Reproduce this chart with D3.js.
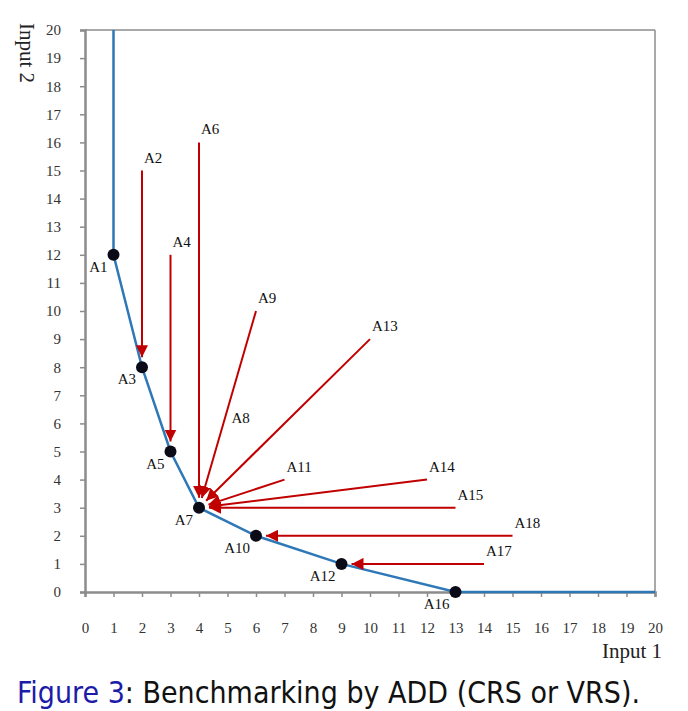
<!DOCTYPE html>
<html>
<head>
<meta charset="utf-8">
<script src="https://cdn.jsdelivr.net/npm/d3@7"></script>
<style>
  body { margin: 0; background: #fff; }
  svg { display: block; }
  .tick text { font-family: "Liberation Serif", "DejaVu Serif", serif; font-size: 15px; fill: #333; }
  .lbl { font-family: "Liberation Serif", "DejaVu Serif", serif; font-size: 15px; fill: #111; }
  .axis-label { font-family: "Liberation Serif", "DejaVu Serif", serif; font-size: 21px; fill: #222; }
</style>
</head>
<body>
<svg id="chart"></svg>
<script>
// efficient frontier points
const frontierNames = ["A1", "A3", "A5", "A7", "A10", "A12", "A16"];
const frontierX = [1, 2, 3, 4, 6, 9, 13];
const frontierY = [12, 8, 5, 3, 2, 1, 0];

// inefficient units and the frontier unit they project onto
const unitNames = ["A2", "A4", "A6", "A9", "A13", "A11", "A14", "A15", "A18", "A17"];
const unitX = [2, 3, 4, 6, 10, 7, 12, 13, 15, 14];
const unitY = [15, 12, 16, 10, 9, 4, 4, 3, 2, 1];
const unitTarget = ["A3", "A5", "A7", "A7", "A7", "A7", "A7", "A7", "A10", "A12"];

// A8 lies on the A9 ray
const extraName = "A8";
const extraX = 5;
const extraY = 6.5;

const xTicks = d3.range(0, 21);
const yTicks = d3.range(0, 21);
const xLabel = "Input 1";
const yLabel = "Input 2";

const width = 688;
const height = 711;
const margin = { top: 30, right: 33, bottom: 119, left: 85 };
const innerWidth = width - margin.left - margin.right;
const innerHeight = height - margin.top - margin.bottom;

const svg = d3.select("#chart").attr("width", width).attr("height", height);
const g = svg.append("g").attr("transform", `translate(${margin.left},${margin.top})`);

const xScale = d3.scaleLinear().domain([0, 20]).range([0, innerWidth]);
const yScale = d3.scaleLinear().domain([0, 20]).range([innerHeight, 0]);

const red = "#c00000";
const blue = "#2f78b8";
const grey = "#8c8c8c";

// frame
g.append("line").attr("x1", 0).attr("x2", innerWidth).attr("y1", 0).attr("y2", 0)
  .attr("stroke", grey).attr("stroke-width", 1.5);
g.append("line").attr("x1", innerWidth).attr("x2", innerWidth).attr("y1", 0).attr("y2", innerHeight)
  .attr("stroke", grey).attr("stroke-width", 1.5);

const xAxis = d3.axisBottom(xScale).tickValues(xTicks).tickSize(5).tickPadding(25).tickFormat(d3.format("d"));
const xAxisG = g.append("g").attr("transform", `translate(0,${innerHeight})`).call(xAxis);
xAxisG.select(".domain").attr("stroke", grey).attr("stroke-width", 2.5);
xAxisG.selectAll(".tick line").attr("stroke", grey).attr("stroke-width", 1.5);

const yAxis = d3.axisLeft(yScale).tickValues(yTicks).tickSize(5).tickPadding(19).tickFormat(d3.format("d"));
const yAxisG = g.append("g").call(yAxis);
yAxisG.select(".domain").attr("stroke", grey).attr("stroke-width", 2.5);
yAxisG.selectAll(".tick line").attr("stroke", grey).attr("stroke-width", 1.5);

svg.append("text").attr("class", "axis-label")
  .attr("x", width - 26).attr("y", 658).attr("text-anchor", "end").text(xLabel);
svg.append("text").attr("class", "axis-label")
  .attr("transform", "translate(20,23) rotate(90)").attr("text-anchor", "start").text(yLabel);

// frontier line
const line = d3.line().x((d) => xScale(d[0])).y((d) => yScale(d[1]));
const frontier = frontierX.map((x, i) => [x, frontierY[i]]);
const fullPath = [[frontierX[0], 20]].concat(frontier, [[20, frontierY[frontierY.length - 1]]]);
g.append("path").datum(fullPath)
  .attr("d", line.curve(d3.curveLinear))
  .attr("fill", "none").attr("stroke", blue).attr("stroke-width", 2.5);

// arrow marker
svg.append("defs").append("marker")
  .attr("id", "head")
  .attr("viewBox", "0 0 10 10")
  .attr("refX", 10).attr("refY", 5)
  .attr("markerWidth", 12).attr("markerHeight", 12)
  .attr("markerUnits", "userSpaceOnUse")
  .attr("orient", "auto")
  .append("path").attr("d", "M0,0L10,5L0,10Z").attr("fill", red);

const gap = 10;
unitNames.forEach((name, i) => {
  const ti = frontierNames.indexOf(unitTarget[i]);
  const sx = xScale(unitX[i]), sy = yScale(unitY[i]);
  const tx = xScale(frontierX[ti]), ty = yScale(frontierY[ti]);
  const len = Math.hypot(tx - sx, ty - sy);
  const ex = tx - (tx - sx) / len * gap;
  const ey = ty - (ty - sy) / len * gap;
  g.append("line")
    .attr("x1", sx).attr("y1", sy).attr("x2", ex).attr("y2", ey)
    .attr("stroke", red).attr("stroke-width", 2)
    .attr("marker-end", "url(#head)");
  g.append("text").attr("class", "lbl")
    .attr("x", sx + 2).attr("y", sy - 8)
    .text(name);
});

g.append("text").attr("class", "lbl")
  .attr("x", xScale(extraX) + 4).attr("y", yScale(extraY) + 14)
  .text(extraName);

// frontier points
g.selectAll("circle").data(frontier).enter().append("circle")
  .attr("cx", (d) => xScale(d[0])).attr("cy", (d) => yScale(d[1]))
  .attr("r", 6).attr("fill", "#0b0b18");

g.selectAll(".flbl").data(frontierNames).enter().append("text")
  .attr("class", "lbl")
  .attr("x", (d, i) => xScale(frontierX[i]) - 6)
  .attr("y", (d, i) => yScale(frontierY[i]) + 17)
  .attr("text-anchor", "end")
  .text((d) => d);

// caption
const cap = svg.append("text")
  .attr("x", 17).attr("y", 703)
  .attr("textLength", 623).attr("lengthAdjust", "spacingAndGlyphs")
  .style("font-family", "'DejaVu Sans Condensed', 'Liberation Sans Narrow', 'Roboto', sans-serif")
  .style("font-stretch", "condensed")
  .style("font-size", "31px");
cap.append("tspan").attr("fill", "#1c1ca8").text("Figure 3");
cap.append("tspan").attr("fill", "#111").text(": Benchmarking by ADD (CRS or VRS).");
</script>
</body>
</html>
